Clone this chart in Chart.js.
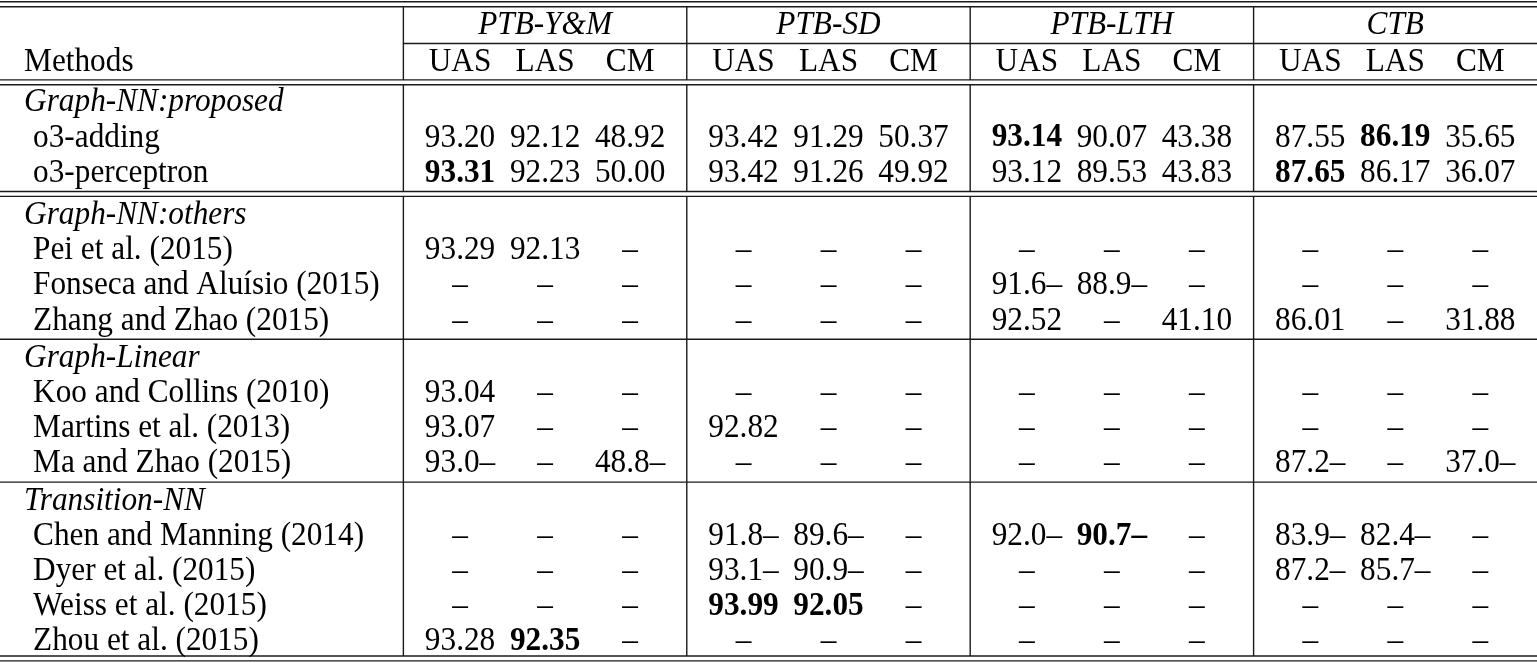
<!DOCTYPE html>
<html>
<head>
<meta charset="utf-8">
<script src="https://cdn.jsdelivr.net/npm/chart.js@4.4.1/dist/chart.umd.min.js"></script>
<style>
  html, body { margin: 0; padding: 0; background: #fff; }
  canvas { display: block; }
</style>
</head>
<body>
<canvas id="table" width="1537" height="663"></canvas>
<script>
// table content
const groupNames = ['PTB-Y&M', 'PTB-SD', 'PTB-LTH', 'CTB'];
const metricNames = ['UAS', 'LAS', 'CM'];
const sectionNames = ['Graph-NN:proposed', 'Graph-NN:others', 'Graph-Linear', 'Transition-NN'];
const sectionMethods = [
    ['o3-adding', 'o3-perceptron'],
    ['Pei et al. (2015)', 'Fonseca and Aluísio (2015)', 'Zhang and Zhao (2015)'],
    ['Koo and Collins (2010)', 'Martins et al. (2013)', 'Ma and Zhao (2015)'],
    ['Chen and Manning (2014)', 'Dyer et al. (2015)', 'Weiss et al. (2015)', 'Zhou et al. (2015)']
];

// one row per method, in the order above: UAS, LAS, CM
const ptbYM = [
    ['93.20', '92.12', '48.92'],
    ['93.31', '92.23', '50.00'],
    ['93.29', '92.13', '–'],
    ['–', '–', '–'],
    ['–', '–', '–'],
    ['93.04', '–', '–'],
    ['93.07', '–', '–'],
    ['93.0–', '–', '48.8–'],
    ['–', '–', '–'],
    ['–', '–', '–'],
    ['–', '–', '–'],
    ['93.28', '92.35', '–']
];
const ptbSD = [
    ['93.42', '91.29', '50.37'],
    ['93.42', '91.26', '49.92'],
    ['–', '–', '–'],
    ['–', '–', '–'],
    ['–', '–', '–'],
    ['–', '–', '–'],
    ['92.82', '–', '–'],
    ['–', '–', '–'],
    ['91.8–', '89.6–', '–'],
    ['93.1–', '90.9–', '–'],
    ['93.99', '92.05', '–'],
    ['–', '–', '–']
];
const ptbLTH = [
    ['93.14', '90.07', '43.38'],
    ['93.12', '89.53', '43.83'],
    ['–', '–', '–'],
    ['91.6–', '88.9–', '–'],
    ['92.52', '–', '41.10'],
    ['–', '–', '–'],
    ['–', '–', '–'],
    ['–', '–', '–'],
    ['92.0–', '90.7–', '–'],
    ['–', '–', '–'],
    ['–', '–', '–'],
    ['–', '–', '–']
];
const ctb = [
    ['87.55', '86.19', '35.65'],
    ['87.65', '86.17', '36.07'],
    ['–', '–', '–'],
    ['–', '–', '–'],
    ['86.01', '–', '31.88'],
    ['–', '–', '–'],
    ['–', '–', '–'],
    ['87.2–', '–', '37.0–'],
    ['83.9–', '82.4–', '–'],
    ['87.2–', '85.7–', '–'],
    ['–', '–', '–'],
    ['–', '–', '–']
];
const groupValues = [ptbYM, ptbSD, ptbLTH, ctb];

// best results, [method, group, metric]
const bestCells = [[1, 0, 0], [11, 0, 1], [10, 1, 0], [10, 1, 1], [0, 2, 0], [8, 2, 1], [1, 3, 0], [0, 3, 1]];

// layout (axis units: one metric column wide, one text row high)
const METHOD_W = 4.27;
const FONT = '"Liberation Serif", "Times New Roman", serif';
const FS = 34;
const SQUEEZE = 0.92;   // the scan's type is a bit narrow
const INK = '#000';

// rows along the y axis
const rows = [];
let yPos = 0.7;
function addRow(kind, label, m) {
    rows.push({ kind: kind, label: label, m: m, y: yPos });
    yPos += 1;
}
addRow('group');
yPos += 0.07;
addRow('metric', 'Methods');
yPos += 0.14;
const sectionGaps = [0.2, 0.06, 0.06, 0];
const sectionEnds = [];
let mIdx = 0;
sectionNames.forEach(function (name, s) {
    addRow('section', name);
    sectionMethods[s].forEach(function (label) {
        addRow('method', label, mIdx);
        mIdx++;
    });
    sectionEnds.push(rows.length - 1);
    yPos += sectionGaps[s];
});

function colX(g, k) {
    return g * 3 + 1.5 + (k - 1) * 0.9;
}
function isBest(m, g, k) {
    return bestCells.some(function (b) { return b[0] === m && b[1] === g && b[2] === k; });
}

// text points
const texts = [];
rows.forEach(function (r) {
    if (r.kind === 'group') {
        groupNames.forEach(function (name, g) {
            texts.push({ x: g * 3 + 1.5, y: r.y, text: name, style: 'italic', align: 'center' });
        });
    } else if (r.kind === 'metric') {
        texts.push({ x: -METHOD_W + 0.255, y: r.y, text: r.label, style: 'normal', align: 'left' });
        groupNames.forEach(function (name, g) {
            metricNames.forEach(function (mn, k) {
                texts.push({ x: colX(g, k), y: r.y, text: mn, style: 'normal', align: 'center' });
            });
        });
    } else if (r.kind === 'section') {
        texts.push({ x: -METHOD_W + 0.255, y: r.y, text: r.label, style: 'italic', align: 'left' });
    } else {
        texts.push({ x: -METHOD_W + 0.35, y: r.y, text: r.label, style: 'normal', align: 'left' });
        groupValues.forEach(function (vals, g) {
            vals[r.m].forEach(function (v, k) {
                texts.push({ x: colX(g, k), y: r.y, text: v, style: isBest(r.m, g, k) ? 'bold' : 'normal', align: 'center' });
            });
        });
    }
});

// rules
function mid(a, b) { return (rows[a].y + rows[b].y) / 2; }
const D = 0.07;
const topRule = rows[0].y - 0.58;
const bottomRule = rows[rows.length - 1].y + 0.48;
const headRule = mid(1, 2);
const propRule = mid(sectionEnds[0], sectionEnds[0] + 1);
const hRules = [
    { y: topRule - D, x0: -METHOD_W, x1: 12 },
    { y: topRule + D, x0: -METHOD_W, x1: 12 },
    { y: mid(0, 1), x0: 0, x1: 12 },
    { y: headRule - D, x0: -METHOD_W, x1: 12 },
    { y: headRule + D, x0: -METHOD_W, x1: 12 },
    { y: propRule - D, x0: -METHOD_W, x1: 12 },
    { y: propRule + D, x0: -METHOD_W, x1: 12 },
    { y: mid(sectionEnds[1], sectionEnds[1] + 1), x0: -METHOD_W, x1: 12 },
    { y: mid(sectionEnds[2], sectionEnds[2] + 1), x0: -METHOD_W, x1: 12 },
    { y: bottomRule - D, x0: -METHOD_W, x1: 12 },
    { y: bottomRule + D, x0: -METHOD_W, x1: 12 }
];
const vSpans = [[topRule + D, headRule - D], [headRule + D, propRule - D], [propRule + D, bottomRule - D]];

const datasets = [];
hRules.forEach(function (h) {
    datasets.push({ data: [{ x: h.x0, y: h.y }, { x: h.x1, y: h.y }] });
});
groupNames.forEach(function (name, g) {
    vSpans.forEach(function (s) {
        datasets.push({ data: [{ x: g * 3, y: s[0] }, { x: g * 3, y: s[1] }] });
    });
});
datasets.forEach(function (d) {
    d.showLine = true;
    d.borderColor = '#1a1a1a';
    d.borderWidth = 1.4;
    d.pointRadius = 0;
    d.fill = false;
});
datasets.push({ label: 'cells', data: texts, pointRadius: 0, showLine: false });

const cellText = {
    id: 'cellText',
    afterDatasetsDraw(chart) {
        const ctx = chart.ctx;
        const idx = chart.data.datasets.length - 1;
        const meta = chart.getDatasetMeta(idx);
        ctx.save();
        ctx.fillStyle = INK;
        ctx.textBaseline = 'middle';
        meta.data.forEach(function (el, i) {
            const t = chart.data.datasets[idx].data[i];
            const st = t.style === 'italic' ? 'italic ' : (t.style === 'bold' ? 'bold ' : '');
            ctx.font = st + FS + 'px ' + FONT;
            ctx.textAlign = t.align;
            ctx.save();
            ctx.translate(el.x, el.y);
            ctx.scale(SQUEEZE, 1);
            ctx.fillText(t.text, 0, 0);
            ctx.restore();
        });
        ctx.restore();
    }
};

new Chart(document.getElementById('table'), {
    type: 'scatter',
    data: { datasets: datasets },
    options: {
        responsive: false,
        animation: false,
        events: [],
        layout: { padding: 0 },
        plugins: { legend: { display: false }, tooltip: { enabled: false } },
        scales: {
            x: { type: 'linear', min: -METHOD_W, max: 12, display: false },
            y: { type: 'linear', min: 0, max: 18.84, reverse: true, display: false }
        }
    },
    plugins: [cellText]
});
</script>
</body>
</html>
